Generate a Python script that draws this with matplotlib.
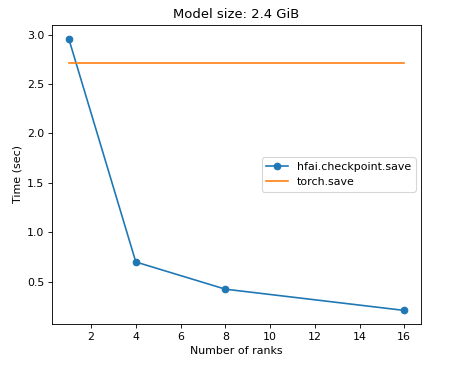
import matplotlib
matplotlib.use("Agg")
import matplotlib.pyplot as plt

ranks = [1, 4, 8, 16]
hfai_times = [2.96, 0.70, 0.425, 0.21]
torch_times = [2.715, 2.715, 2.715, 2.715]

DPI = 79
fig = plt.figure(figsize=(472 / DPI, 372 / DPI), dpi=DPI)
ax = fig.add_axes([0.110, 0.129, 0.782, 0.804])
ax.plot(ranks, hfai_times, marker="o", label="hfai.checkpoint.save")
ax.plot(ranks, torch_times, label="torch.save")
ax.set_title("Model size: 2.4 GiB")
ax.set_xlabel("Number of ranks")
ax.set_ylabel("Time (sec)")
ax.legend(loc="center right")
fig.savefig("out.png", dpi=DPI)
